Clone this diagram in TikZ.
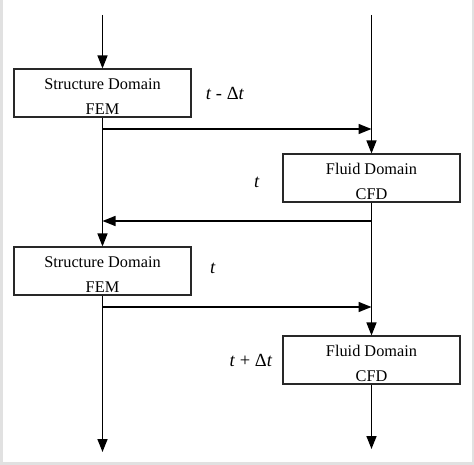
\documentclass[tikz,border=0pt]{standalone}
\usepackage{fontspec}
\setmainfont{Liberation Serif}
\usetikzlibrary{arrows.meta}

\tikzset{every picture/.style={line width=1pt}}
\tikzset{
  domainbox/.style={draw={rgb,255:red,40;green,40;blue,40}, line width=1.1pt, minimum width=177pt, minimum height=48pt, inner sep=0pt, align=center, font=\fontsize{16.3}{25.5}\selectfont},
  flow/.style={line width=1.5pt, -{Triangle[length=13pt,width=10pt]}},
  steplabel/.style={inner sep=0.75pt, font=\fontsize{18.5}{20}\selectfont}
}

\begin{document}
\begin{tikzpicture}[x=1pt,y=1pt,yscale=-1,xscale=1]
				%set diagram size to the reference
				\useasboundingbox (0,0) rectangle (474,465);
				%Shape: Frame
				\fill [color={rgb, 255:red, 225; green, 225; blue, 225 }] (0,0) rectangle (474,465);
				\fill [white] (2.5,0) rectangle (471.5,461.5);
				
				%Shape: Rectangle
				\node [domainbox] (struct1) at (102.5,93) {\rule{0pt}{18pt}Structure Domain\\FEM};
				%Shape: Rectangle
				\node [domainbox] (fluid1) at (371.5,178) {\rule{0pt}{18pt}Fluid Domain\\CFD};
				%Shape: Rectangle
				\node [domainbox] (struct2) at (102.5,271) {\rule{0pt}{18pt}Structure Domain\\FEM};
				%Shape: Rectangle
				\node [domainbox] (fluid2) at (371.5,360) {\rule{0pt}{18pt}Fluid Domain\\CFD};
				
				%Coordinates of free ends
				\coordinate (inS) at (102.5,15);
				\coordinate (inF) at (371.5,15);
				\coordinate (outS) at (102.5,452);
				\coordinate (outF) at (371.5,449);
				\coordinate (s1) at (102.5,129);
				\coordinate (f1) at (371.5,129);
				\coordinate (f2) at (371.5,221);
				\coordinate (s2) at (102.5,221);
				\coordinate (s3) at (102.5,307);
				\coordinate (f3) at (371.5,307);
				
				%Straight Lines
				\draw [flow] (inS) -- (struct1.north);
				\draw [flow] (inF) -- (fluid1.north);
				\draw [flow] (struct1.south) -- (struct2.north);
				\draw [flow] (fluid1.south) -- (fluid2.north);
				\draw [flow] (struct2.south) -- (outS);
				\draw [flow] (fluid2.south) -- (outF);
				%Straight Lines
				\draw [flow] (s1) -- (f1);
				\draw [flow] (f2) -- (s2);
				\draw [flow] (s3) -- (f3);
				
				% Text Node
				\node [steplabel] (tminus) at (225,93) {\textit{t} - Δ\textit{t}};
				% Text Node
				\node [steplabel] (tfluid) at (257,182) {\textit{t}};
				% Text Node
				\node [steplabel] (tstruct) at (213,268) {\textit{t}};
				% Text Node
				\node [steplabel] (tplus) at (251,360) {\textit{t} + Δ\textit{t}};
				
			\end{tikzpicture}
\end{document}
